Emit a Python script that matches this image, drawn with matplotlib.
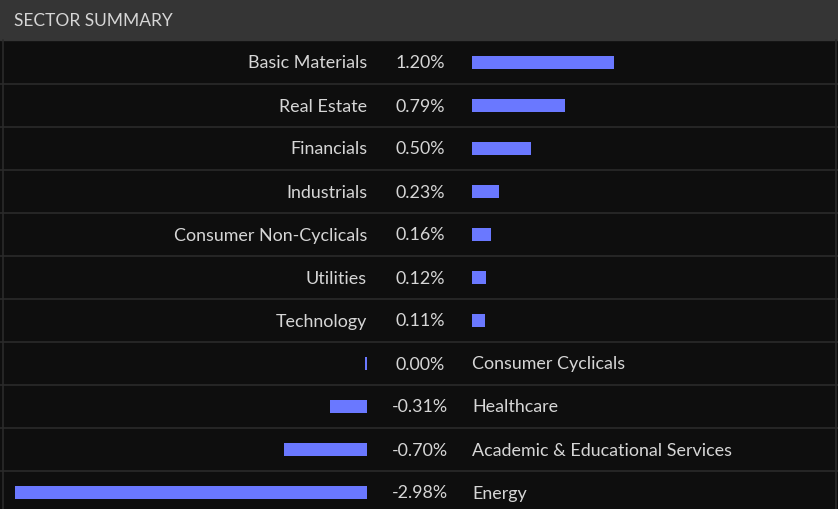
import matplotlib
matplotlib.use("Agg")
import matplotlib.pyplot as plt
from matplotlib.patches import Rectangle

sectors = ["Basic Materials", "Real Estate", "Financials", "Industrials",
           "Consumer Non-Cyclicals", "Utilities", "Technology",
           "Consumer Cyclicals", "Healthcare",
           "Academic & Educational Services", "Energy"]
changes = [1.20, 0.79, 0.50, 0.23, 0.16, 0.12, 0.11, 0.00, -0.31, -0.70, -2.98]
title = "SECTOR SUMMARY"

W, H = 838, 510
HEAD = 41
TOP = 42      # where the first row starts
ROW = 43
PX_PER_PCT = 118.0
bar_col = "#6a78ff"
txt_col = "#d6d6d6"
bg = "#0e0e0e"
FS = 12.9

plt.rcParams['font.family'] = ['Lato', 'DejaVu Sans']

fig = plt.figure(figsize=(W / 100, H / 100), dpi=100, facecolor=bg)
body_h = (H - TOP) / H
ylims = (-0.5 + (H - TOP) / ROW, -0.5)

# background / table axes, x in pixels, y in rows
ax = fig.add_axes([0, 0, 1, body_h])
ax.set_xlim(0, W)
ax.set_ylim(*ylims)
ax.set_facecolor(bg)
ax.axis("off")
for i in range(len(sectors) - 1):
    ax.axhline(i + 0.5, color="#2a2a2a", lw=1.2)

fig.add_artist(plt.Line2D([2.5 / W] * 2, [0, 1 - HEAD / H], transform=fig.transFigure,
                          color="#2a2a2a", lw=1.2))
fig.add_artist(plt.Line2D([835.5 / W] * 2, [0, 1 - HEAD / H], transform=fig.transFigure,
                          color="#2a2a2a", lw=1.2))

# header
fig.patches.append(Rectangle((0, 1 - HEAD / H), 1, HEAD / H, transform=fig.transFigure,
                             color="#353535", zorder=0))
fig.text(14 / W, 1 - 21 / H, title, color=txt_col, fontsize=12.5, va="center", ha="left")

# bar axes
left = fig.add_axes([0, 0, 367 / W, body_h])
left.set_xlim(-367 / PX_PER_PCT, 0)
right = fig.add_axes([472 / W, 0, (W - 472) / W, body_h])
right.set_xlim(0, (W - 472) / PX_PER_PCT)
for a in (left, right):
    a.set_ylim(*ylims)
    a.axis("off")
    a.patch.set_alpha(0)

for i, (name, v) in enumerate(zip(sectors, changes)):
    if v > 0:
        right.barh(i, v, height=0.28, color=bar_col)
        ax.text(367, i, name, color=txt_col, fontsize=FS, ha="right", va="center")
    else:
        w = v if v < 0 else -2 / PX_PER_PCT
        left.barh(i, w, height=0.28, color=bar_col)
        ax.text(472, i, name, color=txt_col, fontsize=FS, ha="left", va="center")
    ax.text(420, i, f"{v:.2f}%", color=txt_col, fontsize=FS, ha="center", va="center")

fig.savefig("out.png", dpi=100, facecolor=bg)
